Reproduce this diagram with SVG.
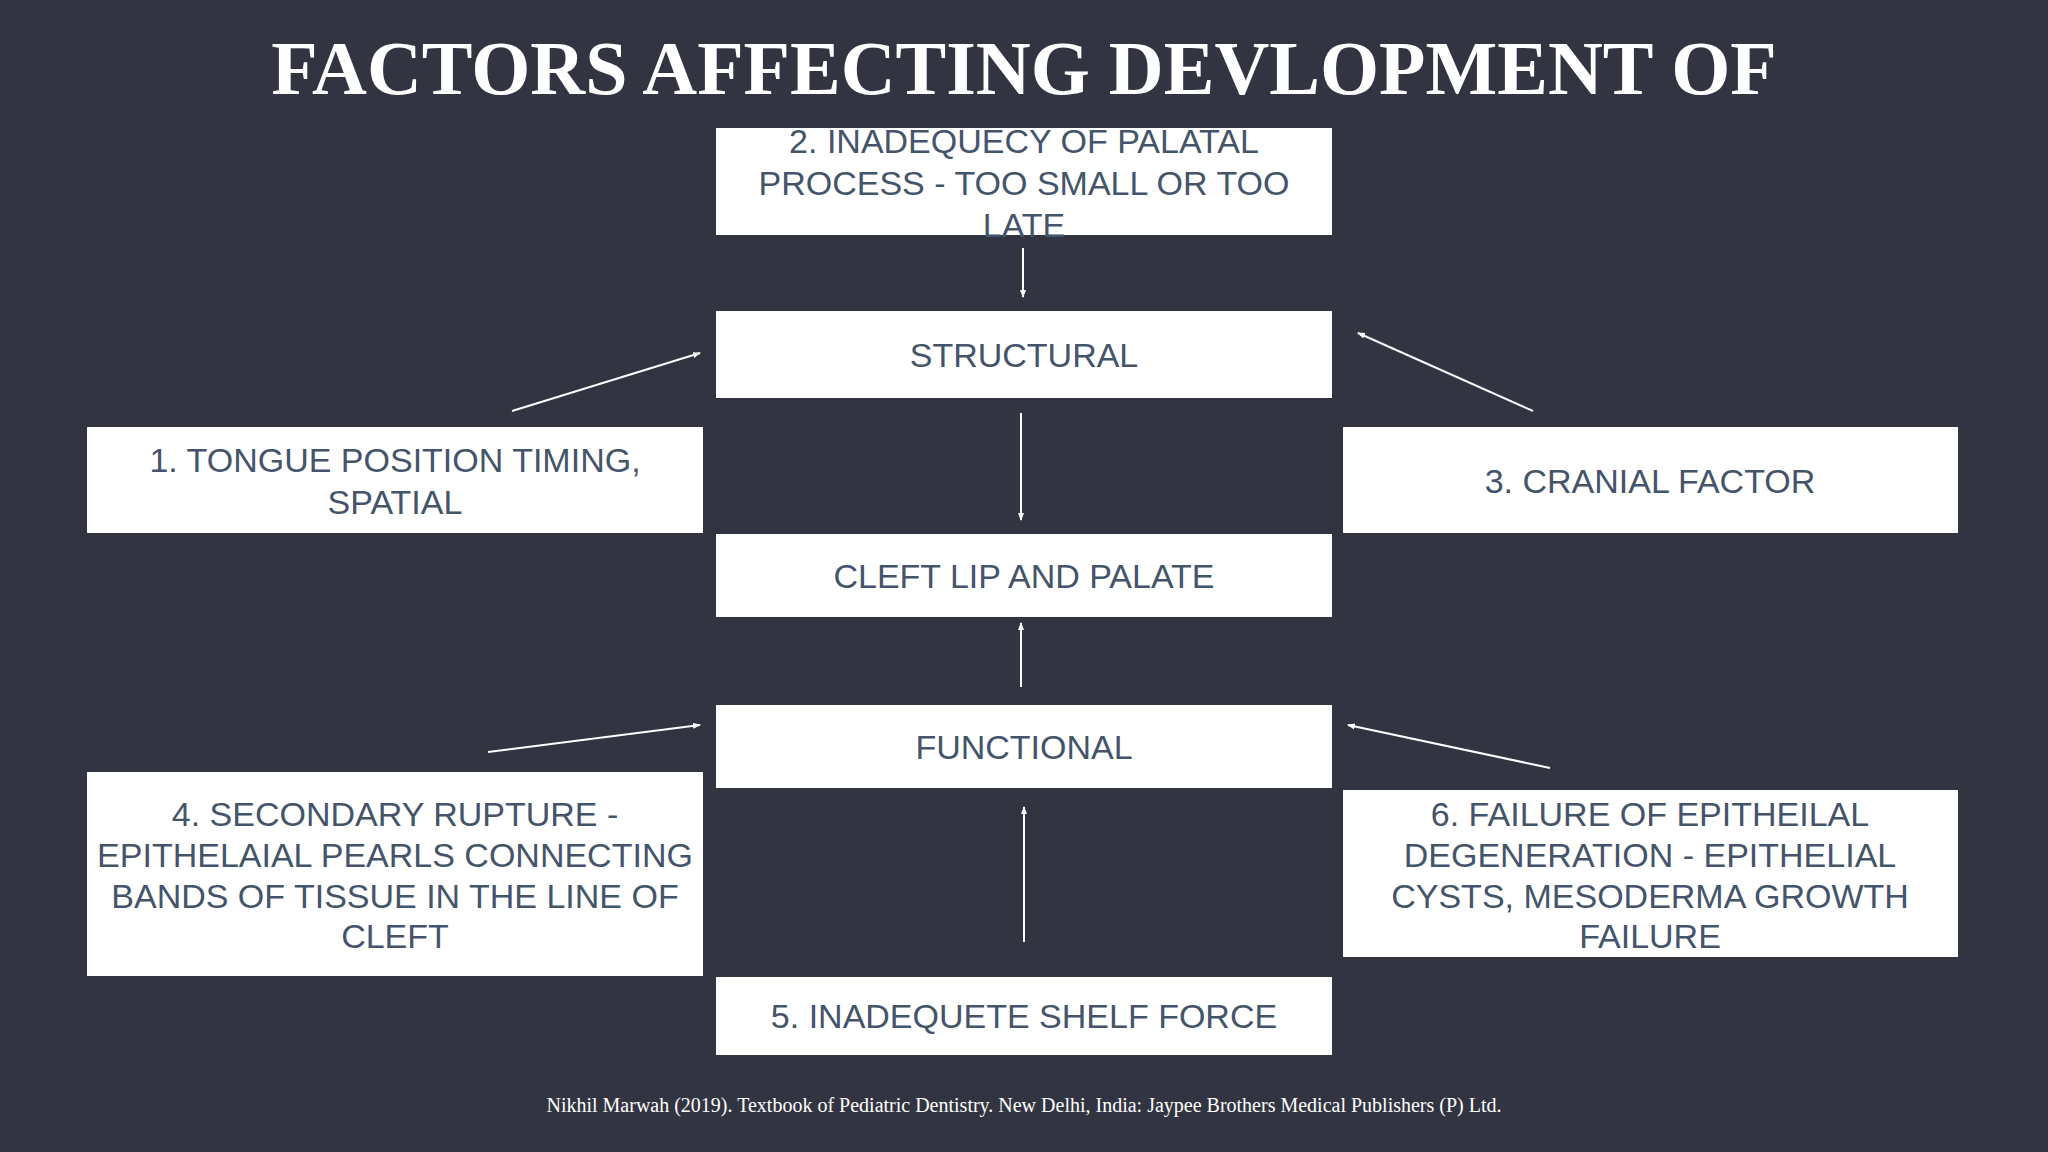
<svg xmlns="http://www.w3.org/2000/svg" width="2048" height="1152" viewBox="0 0 2048 1152">
<defs>
<style>
.box{fill:#fff}
.t{font-family:"Liberation Sans",Arial,sans-serif;font-size:34px;fill:#44546a;text-anchor:middle;dominant-baseline:central}
.c{stroke:#fff;stroke-width:2;fill:none;marker-end:url(#ah)}
</style>
<marker id="ah" markerWidth="8" markerHeight="8" refX="7" refY="4" orient="auto" markerUnits="userSpaceOnUse"><path d="M0,1 L8,4 L0,7 z" fill="#fff"/></marker>
</defs>
<rect width="2048" height="1152" fill="#323541"/>
<text x="1024" y="94" font-family="Liberation Serif,serif" font-weight="bold" font-size="76" fill="#fff" text-anchor="middle">FACTORS AFFECTING DEVLOPMENT OF</text>
<g id="n2"><rect class="box" x="716" y="128" width="616" height="107"/><text class="t" x="1024" y="141">2. INADEQUECY OF PALATAL</text><text class="t" x="1024" y="183">PROCESS - TOO SMALL OR TOO</text><text class="t" x="1024" y="225">LATE</text></g>
<g id="structural"><rect class="box" x="716" y="311" width="616" height="87"/><text class="t" x="1024" y="355">STRUCTURAL</text></g>
<g id="n1"><rect class="box" x="87" y="427" width="616" height="106"/><text class="t" x="395" y="460">1. TONGUE POSITION TIMING,</text><text class="t" x="395" y="502">SPATIAL</text></g>
<g id="n3"><rect class="box" x="1343" y="427" width="615" height="106"/><text class="t" x="1650" y="481">3. CRANIAL FACTOR</text></g>
<g id="cleft"><rect class="box" x="716" y="534" width="616" height="83"/><text class="t" x="1024" y="576">CLEFT LIP AND PALATE</text></g>
<g id="functional"><rect class="box" x="716" y="705" width="616" height="83"/><text class="t" x="1024" y="747">FUNCTIONAL</text></g>
<g id="n4"><rect class="box" x="87" y="772" width="616" height="204"/><text class="t" x="395" y="814">4. SECONDARY RUPTURE -</text><text class="t" x="395" y="855">EPITHELAIAL PEARLS CONNECTING</text><text class="t" x="395" y="896">BANDS OF TISSUE IN THE LINE OF</text><text class="t" x="395" y="936">CLEFT</text></g>
<g id="n6"><rect class="box" x="1343" y="790" width="615" height="167"/><text class="t" x="1650" y="814">6. FAILURE OF EPITHEILAL</text><text class="t" x="1650" y="855">DEGENERATION - EPITHELIAL</text><text class="t" x="1650" y="896">CYSTS, MESODERMA GROWTH</text><text class="t" x="1650" y="936">FAILURE</text></g>
<g id="n5"><rect class="box" x="716" y="977" width="616" height="78"/><text class="t" x="1024" y="1016">5. INADEQUETE SHELF FORCE</text></g>
<g id="connectors">
<line class="c" x1="1023" y1="248" x2="1023" y2="297"/>
<line class="c" x1="512" y1="411" x2="700" y2="353"/>
<line class="c" x1="1533" y1="411" x2="1358" y2="333"/>
<line class="c" x1="1021" y1="413" x2="1021" y2="520"/>
<line class="c" x1="1021" y1="687" x2="1021" y2="623"/>
<line class="c" x1="488" y1="752" x2="700" y2="725"/>
<line class="c" x1="1550" y1="768" x2="1348" y2="725"/>
<line class="c" x1="1024" y1="942" x2="1024" y2="807"/>
</g>
<text x="1024" y="1112" font-family="Liberation Serif,serif" font-size="20" fill="#fff" text-anchor="middle">Nikhil Marwah (2019). Textbook of Pediatric Dentistry. New Delhi, India: Jaypee Brothers Medical Publishers (P) Ltd.</text>
</svg>
